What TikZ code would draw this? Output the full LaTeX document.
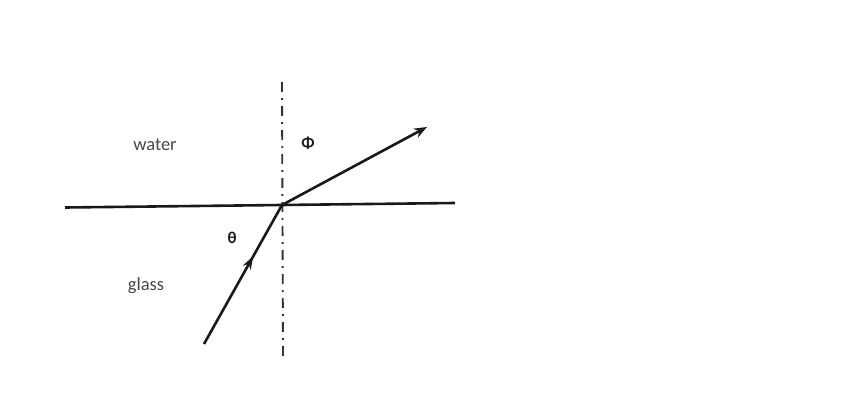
\documentclass[tikz,border=0pt]{standalone}
\usepackage{fontspec}
\setmainfont{Carlito}
\usetikzlibrary{arrows.meta,decorations.markings}
\begin{document}
\begin{tikzpicture}[x=1pt,y=-1pt,
  ray/.style={line width=2.6pt,black!90},
  normalline/.style={line width=1.9pt,black!80,dash pattern=on 10pt off 6pt on 2pt off 6pt},
  lbl/.style={font=\fontsize{18.5}{22}\selectfont,text=black!72,inner sep=0pt},
  glbl/.style={font=\fontsize{16.5}{20}\selectfont\bfseries,text=black!90,inner sep=0pt},
  tip/.style={-{Stealth[length=13pt,width=10pt]}}]
\useasboundingbox (0,0) rectangle (852,404);
\coordinate (O) at (282,205);
\coordinate (L) at (65,207.5);
\coordinate (R) at (455,203);
\coordinate (T) at (282,82);
\coordinate (B) at (283,358);
\coordinate (S) at (204,344);
\coordinate (E) at (427,127);
\draw[normalline] (T) -- (B);
\draw[ray] (L) -- (R);
\draw[ray,postaction={decorate},decoration={markings,mark=at position 0.63 with {\arrow{Stealth[length=13pt,width=9pt]}}}] (S) -- (O);
\draw[ray,tip] (O) -- (E);
\node[lbl] (water) at (155,145) {water};
\node[lbl] (glass) at (146,286) {glass};
\node[glbl] (phi) at (308,143) {Φ};
\node[glbl] (theta) at (232,238) {θ};
\end{tikzpicture}
\end{document}
